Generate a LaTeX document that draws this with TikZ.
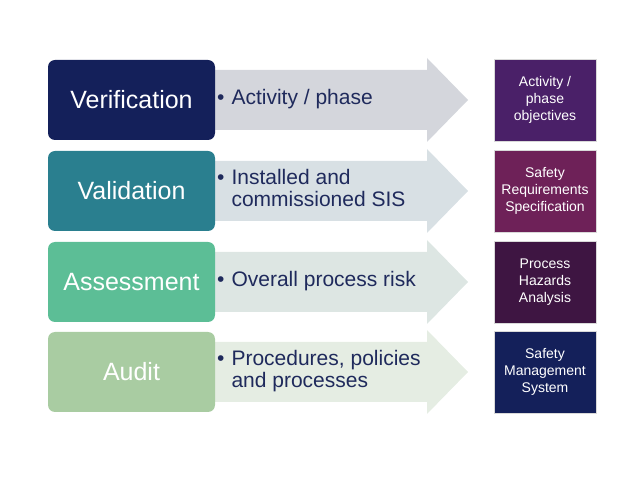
\documentclass[tikz,border=0pt]{standalone}
\usepackage{fontspec}
\setmainfont{Liberation Sans}
\definecolor{cA}{HTML}{14205A}\definecolor{cB}{HTML}{2A7F8F}
\definecolor{cC}{HTML}{5CBE96}\definecolor{cD}{HTML}{A9CCA2}
\definecolor{aA}{HTML}{D4D6DC}\definecolor{aB}{HTML}{D8E0E4}
\definecolor{aC}{HTML}{DDE6E3}\definecolor{aD}{HTML}{E5EDE3}
\definecolor{rA}{HTML}{4A2068}\definecolor{rB}{HTML}{6E2158}
\definecolor{rC}{HTML}{3E1542}\definecolor{rD}{HTML}{14205A}
\definecolor{txt}{HTML}{1F2A5C}
\tikzset{
 lbox/.style={rounded corners=7pt,minimum width=167pt,minimum height=80pt,text=white,font=\fontsize{25}{29}\selectfont,inner sep=0pt},
 rbox/.style={minimum width=102pt,minimum height=82pt,text=white,font=\fontsize{14}{17}\selectfont,align=center,inner sep=0pt,draw=white!85!black,line width=0.6pt},
 atext/.style={anchor=west,text=txt,font=\fontsize{21}{22}\selectfont,inner sep=0pt}
}
\newcommand{\bul}[1]{\begin{tabular}{@{}l@{\hspace{7pt}}l@{}}\textbullet&#1\end{tabular}}
\begin{document}
\begin{tikzpicture}[x=1pt,y=-1pt]
\useasboundingbox (0,0) rectangle (638,478);
\foreach \y/\a/\c/\r/\l/\t/\rt/\n in {
 100/aA/cA/rA/Verification/{Activity / phase}/{Activity /\\phase\\objectives}/1,
 191/aB/cB/rB/Validation/{Installed and\\&commissioned SIS}/{Safety\\Requirements\\Specification}/2,
 282/aC/cC/rC/Assessment/{Overall process risk}/{Process\\Hazards\\Analysis}/3,
 372/aD/cD/rD/Audit/{Procedures, policies\\&and processes}/{Safety\\Management\\System}/4}{
 \fill[\a] (205,\y-30) -- (427,\y-30) -- (427,\y-42) -- (468,\y) -- (427,\y+42) -- (427,\y+30) -- (205,\y+30) -- cycle;
 \node[lbox,fill=\c] (l\n) at (131.5,\y) {\l};
 \node[atext] (t\n) at (217,\y) {\bul{\t}};
 \node[rbox,fill=\r] (r\n) at (545,\y) {\rt};
}
\end{tikzpicture}
\end{document}
